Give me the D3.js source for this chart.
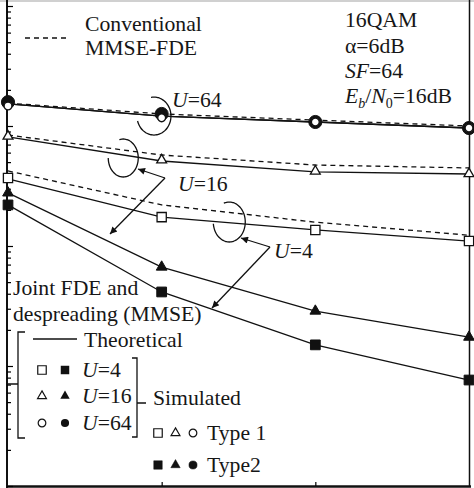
<!DOCTYPE html>
<html>
<head>
<meta charset="utf-8">
<script src="https://cdnjs.cloudflare.com/ajax/libs/d3/7.8.5/d3.min.js"></script>
<style>
  html, body { margin: 0; padding: 0; background: #fff; }
  svg { display: block; }
  text { font-family: "Liberation Serif", "Times New Roman", serif; font-size: 21.7px; fill: #161616; }
</style>
</head>
<body>
<svg id="chart" width="474" height="488"></svg>
<script>
// x positions (4 evenly spaced settings, no labels visible in the crop)
var xVals = [1, 2, 3, 4];

// conventional MMSE-FDE (dashed)
var convU4  = [0.0422, 0.0220, 0.0158, 0.0123];
var convU16 = [0.0841, 0.0573, 0.0473, 0.0447];
var convU64 = [0.155, 0.126, 0.112, 0.100];

// joint FDE and despreading, theoretical (solid)
var theoType1U4  = [0.0362, 0.0174, 0.0136, 0.0110];
var theoType1U16 = [0.0810, 0.0511, 0.0414, 0.0398];
var theoType1U64 = [0.153, 0.121, 0.108, 0.0962];
var theoType2U4  = [0.0220, 0.00414, 0.00150, 0.000764];
var theoType2U16 = [0.0277, 0.00668, 0.00287, 0.00174];
var theoType2U64 = [0.153, 0.121, 0.108, 0.0962];

// simulated markers
var simType1U4  = [0.0369, 0.0174, 0.0136, 0.0110];
var simType1U16 = [0.0820, 0.0520, 0.0420, 0.0400];
var simType1U64 = [0.147, 0.117, 0.108, 0.0962];
var simType2U4  = [0.0220, 0.00414, 0.00150, 0.000764];
var simType2U16 = [0.0277, 0.00668, 0.00287, 0.00174];
var simType2U64 = [0.158, 0.126, 0.108, 0.0962];

var svg = d3.select('#chart')
  , x = d3.scaleLinear().domain([1, 4]).range([8, 469])
  , y = d3.scaleLog().domain([1e-4, 1]).range([486, 6])
  , line = d3.line().x(function (d, i) { return x(xVals[i]); }).y(function (d) { return y(d); })
  , sym = function (type, size) { return d3.symbol().type(type).size(size)(); }
;

svg.append('defs').append('marker')
    .attr('id', 'ah').attr('viewBox', '0 0 10 10')
    .attr('refX', 10).attr('refY', 5)
    .attr('markerWidth', 9).attr('markerHeight', 7)
    .attr('markerUnits', 'userSpaceOnUse').attr('orient', 'auto')
  .append('path').attr('d', 'M0,0L10,5L0,10z').attr('fill', '#111');

// frame
svg.append('line').attr('x1', 0).attr('x2', 474).attr('y1', 1).attr('y2', 1)
  .attr('stroke', '#d0d0d0').attr('stroke-width', 2);
svg.append('line').attr('x1', 7).attr('x2', 7).attr('y1', 0).attr('y2', 488)
  .attr('stroke', '#111').attr('stroke-width', 2);
svg.append('line').attr('x1', 469.5).attr('x2', 469.5).attr('y1', 0).attr('y2', 487)
  .attr('stroke', '#111').attr('stroke-width', 1.5);
svg.append('line').attr('x1', 6).attr('x2', 471).attr('y1', 486.5).attr('y2', 486.5)
  .attr('stroke', '#111').attr('stroke-width', 2.5);

// axes: log ticks on the left, x ticks on the bottom, both pointing inward
var yAxis = svg.append('g').attr('transform', 'translate(7,0)')
  .call(d3.axisRight(y).tickValues(y.ticks()).tickSize(4).tickFormat(''));
yAxis.select('.domain').remove();
yAxis.selectAll('.tick line')
  .attr('stroke-width', 1.2)
  .attr('x2', function (d) { return Math.abs(Math.log10(d) % 1) < 1e-9 ? 6 : 4; });

var xAxis = svg.append('g').attr('transform', 'translate(0,486)')
  .call(d3.axisTop(x).tickValues(xVals.slice(1, 3)).tickSize(4).tickFormat(''));
xAxis.select('.domain').remove();
xAxis.selectAll('.tick line').attr('stroke-width', 1.2);

// curves
var dashed = [convU4, convU16, convU64]
  , solid = [theoType1U4, theoType1U16, theoType1U64, theoType2U4, theoType2U16, theoType2U64];

svg.selectAll('path.conv').data(dashed).enter().append('path')
  .attr('class', 'conv').attr('d', line)
  .attr('fill', 'none').attr('stroke', '#111').attr('stroke-width', 1.3)
  .attr('stroke-dasharray', '5,4');

svg.selectAll('path.theo').data(solid).enter().append('path')
  .attr('class', 'theo').attr('d', line)
  .attr('fill', 'none').attr('stroke', '#111').attr('stroke-width', 1.3);

// simulated markers
var markerSets = [
  { vals: simType2U64, type: d3.symbolCircle,   size: 135, filled: true },
  { vals: simType1U64, type: d3.symbolCircle,   size: 48,  filled: false },
  { vals: simType1U16, type: d3.symbolTriangle, size: 42,  filled: false },
  { vals: simType2U16, type: d3.symbolTriangle, size: 50,  filled: true },
  { vals: simType1U4,  type: d3.symbolSquare,   size: 85,  filled: false },
  { vals: simType2U4,  type: d3.symbolSquare,   size: 95,  filled: true }
];

markerSets.forEach(function (m) {
  svg.append('g').selectAll('path').data(m.vals).enter().append('path')
    .attr('transform', function (d, i) { return 'translate(' + x(xVals[i]) + ',' + y(d) + ')'; })
    .attr('d', sym(m.type, m.size))
    .attr('fill', m.filled ? '#111' : '#fff')
    .attr('stroke', '#111').attr('stroke-width', m.filled ? 1 : 1.3);
});

// ellipses grouping the curves, drawn as open arcs
var arc = function (cx, cy, rx, ry, a0, a1) {
  var pts = d3.range(a0, a1 + 1, 5).map(function (a) {
    var t = a * Math.PI / 180;
    return [cx + rx * Math.cos(t), cy + ry * Math.sin(t)];
  });
  return d3.line().curve(d3.curveBasis)(pts);
};
[
  [x(1.95), y(theoType1U64[1]), 17, 19, -100, 165],
  [x(1.75), 158, 15, 19, -105, 180],
  [x(2.44), 222, 16, 20, -110, 175]
].forEach(function (e) {
  svg.append('path').attr('d', arc.apply(null, e))
    .attr('fill', 'none').attr('stroke', '#111').attr('stroke-width', 1.3);
});

// arrows from the U labels
[
  [165, 178, 138, 169], [165, 178, 110, 234],
  [270, 247, 241, 238], [270, 247, 212, 308]
].forEach(function (a) {
  svg.append('line').attr('x1', a[0]).attr('y1', a[1]).attr('x2', a[2]).attr('y2', a[3])
    .attr('stroke', '#111').attr('stroke-width', 1.3).attr('marker-end', 'url(#ah)');
});

// U labels
var uLabel = function (px, py, num) {
  var t = svg.append('text').attr('x', px).attr('y', py);
  t.append('tspan').attr('font-style', 'italic').text('U');
  t.append('tspan').text('=' + num);
};
uLabel(172, 107, '64');
uLabel(178, 191, '16');
uLabel(274, 258, '4');

// conventional legend
svg.append('line').attr('x1', 25).attr('x2', 69).attr('y1', 38).attr('y2', 38)
  .attr('stroke', '#111').attr('stroke-width', 1.3).attr('stroke-dasharray', '5,4');
svg.append('text').attr('x', 85).attr('y', 31).text('Conventional');
svg.append('text').attr('x', 85).attr('y', 55).text('MMSE-FDE');

// parameters
svg.append('text').attr('x', 345).attr('y', 27).text('16QAM');
svg.append('text').attr('x', 345).attr('y', 53).text('\u03b1=6dB');
var sf = svg.append('text').attr('x', 345).attr('y', 78);
sf.append('tspan').attr('font-style', 'italic').text('SF');
sf.append('tspan').text('=64');
var eb = svg.append('text').attr('x', 345).attr('y', 103);
eb.append('tspan').attr('font-style', 'italic').text('E');
eb.append('tspan').attr('font-style', 'italic').attr('font-size', 14).attr('dy', 5).text('b');
eb.append('tspan').attr('dy', -5).text('/');
eb.append('tspan').attr('font-style', 'italic').text('N');
eb.append('tspan').attr('font-size', 14).attr('dy', 5).text('0');
eb.append('tspan').attr('dy', -5).text('=16dB');

// joint FDE legend
svg.append('text').attr('x', 13).attr('y', 295).text('Joint FDE and');
svg.append('text').attr('x', 13).attr('y', 321).text('despreading (MMSE)');
svg.append('line').attr('x1', 33).attr('x2', 77).attr('y1', 339).attr('y2', 339)
  .attr('stroke', '#111').attr('stroke-width', 1.3);
svg.append('text').attr('x', 84).attr('y', 347).text('Theoretical');

var brk = 'stroke:#111;stroke-width:1.3;fill:none';
svg.append('path').attr('d', 'M25,332H18V438H25M18,384H8').attr('style', brk);
svg.append('path').attr('d', 'M132,358H137V437H132M137,403H146').attr('style', brk);

var legendRows = [
  { label: '4',  type: d3.symbolSquare,   size: [72, 72], cy: 370 },
  { label: '16', type: d3.symbolTriangle, size: [34, 38], cy: 396 },
  { label: '64', type: d3.symbolCircle,   size: [46, 52], cy: 423 }
];
legendRows.forEach(function (r) {
  svg.append('path').attr('transform', 'translate(42,' + r.cy + ')')
    .attr('d', sym(r.type, r.size[0])).attr('fill', '#fff').attr('stroke', '#111').attr('stroke-width', 1.2);
  svg.append('path').attr('transform', 'translate(65,' + r.cy + ')')
    .attr('d', sym(r.type, r.size[1])).attr('fill', '#111');
  uLabel(82, r.cy + 7, r.label);
});
svg.append('text').attr('x', 153).attr('y', 405).text('Simulated');

[{ label: 'Type 1', cy: 433, filled: false }, { label: 'Type2', cy: 465, filled: true }]
  .forEach(function (r) {
    legendRows.forEach(function (m, i) {
      svg.append('path').attr('transform', 'translate(' + (158 + i * 17.5) + ',' + r.cy + ')')
        .attr('d', sym(m.type, m.size[r.filled ? 1 : 0]))
        .attr('fill', r.filled ? '#111' : '#fff').attr('stroke', '#111').attr('stroke-width', r.filled ? 0.5 : 1.2);
    });
    svg.append('text').attr('x', 207).attr('y', r.cy + 7).text(r.label);
  });
</script>
</body>
</html>
